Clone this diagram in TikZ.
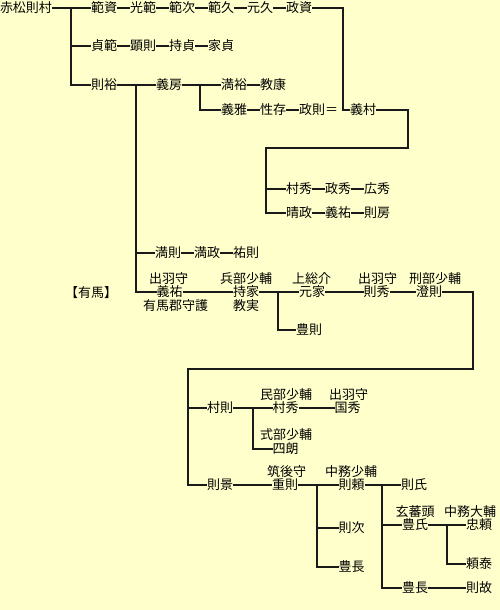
\documentclass[tikz,border=0pt]{standalone}
\usepackage{fontspec}
\newfontfamily\jpfont{Noto Sans CJK JP}
\definecolor{bgyellow}{HTML}{FFFFCC}
\definecolor{linecol}{HTML}{1A1A1A}
\begin{document}
\begin{tikzpicture}[x=1pt,y=-1pt,
  nm/.style={inner sep=0pt, outer sep=0pt, font=\jpfont\fontsize{13}{13}\selectfont, text=black},
  ln/.style={line width=1.6pt, draw=linecol}]
\fill[bgyellow] (0,0) rectangle (500,610);
\useasboundingbox (0,0) rectangle (500,610);
% row 1
\node[nm] (a0) at (26,8) {赤松則村};
\node[nm] (a1) at (104,8) {範資};
\node[nm] (a2) at (143,8) {光範};
\node[nm] (a3) at (182,8) {範次};
\node[nm] (a4) at (221,8) {範久};
\node[nm] (a5) at (260,8) {元久};
\node[nm] (a6) at (299,8) {政資};
% row 2
\node[nm] (b1) at (104,46) {貞範};
\node[nm] (b2) at (143,46) {顕則};
\node[nm] (b3) at (182,46) {持貞};
\node[nm] (b4) at (221,46) {家貞};
% row 3
\node[nm] (c1) at (104,85) {則裕};
\node[nm] (c2) at (169,85) {義房};
\node[nm] (c3) at (234,85) {満裕};
\node[nm] (c4) at (273,85) {教康};
% row 4
\node[nm] (d1) at (234,110) {義雅};
\node[nm] (d2) at (273,110) {性存};
\node[nm] (d3) at (318.5,110) {政則＝};
\node[nm] (d4) at (363,110) {義村};
% rows 5,6
\node[nm] (e1) at (299,189) {村秀};
\node[nm] (e2) at (338,189) {政秀};
\node[nm] (e3) at (377,189) {広秀};
\node[nm] (f1) at (299,213) {晴政};
\node[nm] (f2) at (338,213) {義祐};
\node[nm] (f3) at (377,213) {則房};
% row 7
\node[nm] (g1) at (168,253) {満則};
\node[nm] (g2) at (207,253) {満政};
\node[nm] (g3) at (246,253) {祐則};
% Arima
\node[nm] (h0) at (91,293) {【有馬】};
\node[nm] (h1) at (169.5,292) {義祐};
\node[nm] (h1t) at (168.5,279) {出羽守};
\node[nm] (h1b) at (175.5,306) {有馬郡守護};
\node[nm] (h2) at (246,292) {持家};
\node[nm] (h2t) at (246,279) {兵部少輔};
\node[nm] (h2b) at (246,306) {教実};
\node[nm] (h3) at (312,292) {元家};
\node[nm] (h3t) at (311.5,279) {上総介};
\node[nm] (h4) at (376.5,292) {則秀};
\node[nm] (h4t) at (377.5,279) {出羽守};
\node[nm] (h5) at (429,292) {澄則};
\node[nm] (h5t) at (435,279) {刑部少輔};
\node[nm] (i1) at (309,330) {豊則};
% Muranori
\node[nm] (k1) at (220,408) {村則};
\node[nm] (k2) at (285.5,408) {村秀};
\node[nm] (k2t) at (286,395) {民部少輔};
\node[nm] (k3) at (347.5,408) {国秀};
\node[nm] (k3t) at (348.5,395) {出羽守};
\node[nm] (k4) at (285.5,449) {四朗};
\node[nm] (k4t) at (286,435) {式部少輔};
% Norikage
\node[nm] (m1) at (220,485) {則景};
\node[nm] (m2) at (285,485) {重則};
\node[nm] (m2t) at (286.5,472) {筑後守};
\node[nm] (m3) at (351.5,485) {則頼};
\node[nm] (m3t) at (351,472) {中務少輔};
\node[nm] (m4) at (414,485) {則氏};
\node[nm] (n1) at (351.5,528) {則次};
\node[nm] (n2) at (351.5,567) {豊長};
\node[nm] (p1) at (415,525) {豊氏};
\node[nm] (p1t) at (415,512) {玄蕃頭};
\node[nm] (p2) at (479,525) {忠頼};
\node[nm] (p2t) at (470,512) {中務大輔};
\node[nm] (p3) at (479,564) {頼泰};
\node[nm] (q1) at (415,588) {豊長};
\node[nm] (q2) at (479,588) {則故};
% junctions
\coordinate (j1) at (71,8);
\coordinate (j2) at (343,110);
\coordinate (j3) at (408,148);
\coordinate (j4) at (266,148);
\coordinate (j5) at (136,85);
\coordinate (j6) at (200,85);
\coordinate (j7) at (278,292);
\coordinate (j8) at (473,369);
\coordinate (j9) at (188,369);
\coordinate (j10) at (253,408);
\coordinate (j11) at (317,485);
\coordinate (j12) at (382,485);
\coordinate (j13) at (447,525);
% connectors
\draw[ln] (a0.east) -- (a1.west);
\draw[ln] (j1) |- (b1.west);
\draw[ln] (j1) |- (c1.west);
\draw[ln] (a1.east) -- (a2.west);
\draw[ln] (a2.east) -- (a3.west);
\draw[ln] (a3.east) -- (a4.west);
\draw[ln] (a4.east) -- (a5.west);
\draw[ln] (a5.east) -- (a6.west);
\draw[ln] (a6.east) -| (j2) -- (d4.west);
\draw[ln] (b1.east) -- (b2.west);
\draw[ln] (b2.east) -- (b3.west);
\draw[ln] (b3.east) -- (b4.west);
\draw[ln] (c1.east) -- (c2.west);
\draw[ln] (c2.east) -- (c3.west);
\draw[ln] (c3.east) -- (c4.west);
\draw[ln] (j6) |- (d1.west);
\draw[ln] (d1.east) -- (d2.west);
\draw[ln] (d2.east) -- (d3.west);
\draw[ln] (d4.east) -| (j3) -- (j4) |- (f1.west);
\draw[ln] (j4) |- (e1.west);
\draw[ln] (e1.east) -- (e2.west);
\draw[ln] (e2.east) -- (e3.west);
\draw[ln] (f1.east) -- (f2.west);
\draw[ln] (f2.east) -- (f3.west);
\draw[ln] (j5) |- (g1.west);
\draw[ln] (j5) |- (h1.west);
\draw[ln] (g1.east) -- (g2.west);
\draw[ln] (g2.east) -- (g3.west);
\draw[ln] (h1.east) -- (h2.west);
\draw[ln] (h2.east) -- (h3.west);
\draw[ln] (j7) |- (i1.west);
\draw[ln] (h3.east) -- (h4.west);
\draw[ln] (h4.east) -- (h5.west);
\draw[ln] (h5.east) -| (j8) -- (j9) |- (m1.west);
\draw[ln] (j9) |- (k1.west);
\draw[ln] (k1.east) -- (k2.west);
\draw[ln] (j10) |- (k4.west);
\draw[ln] (k2.east) -- (k3.west);
\draw[ln] (m1.east) -- (m2.west);
\draw[ln] (m2.east) -- (m3.west);
\draw[ln] (j11) |- (n1.west);
\draw[ln] (j11) |- (n2.west);
\draw[ln] (m3.east) -- (m4.west);
\draw[ln] (j12) |- (p1.west);
\draw[ln] (j12) |- (q1.west);
\draw[ln] (p1.east) -- (p2.west);
\draw[ln] (j13) |- (p3.west);
\draw[ln] (q1.east) -- (q2.west);
\end{tikzpicture}
\end{document}
